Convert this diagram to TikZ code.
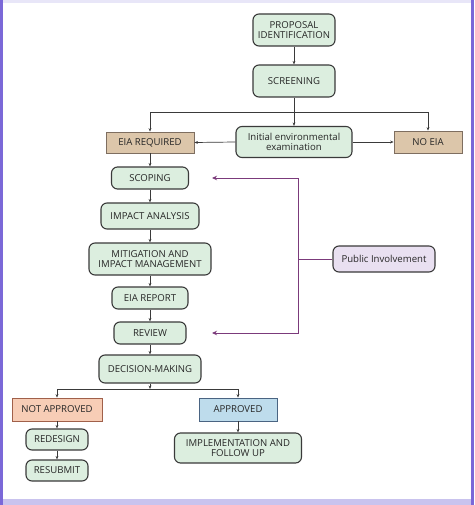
\documentclass[tikz,border=0pt]{standalone}
\usepackage{fontspec}
\setmainfont{Open Sans}
\usetikzlibrary{arrows.meta}
\definecolor{gfill}{HTML}{DCEEDF}
\definecolor{edge}{HTML}{3A3A3A}
\definecolor{txt}{HTML}{262626}
\definecolor{tanc}{HTML}{DCC6AA}
\definecolor{tanedge}{HTML}{7E6E60}
\definecolor{peach}{HTML}{F7CDB6}
\definecolor{peachedge}{HTML}{A0604A}
\definecolor{bluec}{HTML}{BEDCEC}
\definecolor{blueedge}{HTML}{4A6482}
\definecolor{lav}{HTML}{E9E0F1}
\definecolor{purp}{HTML}{7B3A7B}
\definecolor{topc}{HTML}{E8E6F8}
\definecolor{botc}{HTML}{C9C3EE}
\definecolor{sidec}{HTML}{7B68D8}
\begin{document}
\begin{tikzpicture}[x=1pt,y=-1pt,
  box/.style={draw=edge, line width=1.1pt, rounded corners=6pt, fill=gfill, align=center,
    inner sep=0pt, font=\fontsize{9.6}{10.3}\selectfont, text=txt},
  sqbox/.style={box, rounded corners=0pt, line width=0.8pt},
  arr/.style={-{Stealth[length=3.5pt,width=2.8pt]}, draw=edge, line width=0.7pt},
  pline/.style={draw=purp, line width=0.9pt},
  parr/.style={pline, -{Stealth[length=5pt,width=4.5pt]}}]
\useasboundingbox (0,0) rectangle (474,505);
\fill[white] (0,0) rectangle (474,505);
\fill[topc] (0,0) rectangle (474,3);
\fill[botc] (0,499) rectangle (474,505);
\fill[sidec] (0,0) rectangle (2.5,505);
\fill[sidec] (471,0) rectangle (474,505);

\node[box, minimum width=82pt, minimum height=32pt] (prop) at (294,30) {PROPOSAL\\IDENTIFICATION};
\node[box, minimum width=82pt, minimum height=32pt] (scr) at (294,81) {SCREENING};
\node[box, minimum width=116pt, minimum height=31pt] (iee) at (294,142) {Initial environmental\\examination};
\node[sqbox, fill=tanc, draw=tanedge, minimum width=88pt, minimum height=21pt] (req) at (150,142.5) {EIA REQUIRED};
\node[sqbox, fill=tanc, draw=tanedge, minimum width=68pt, minimum height=22pt] (noeia) at (428,142) {NO EIA};
\node[box, minimum width=77pt, minimum height=22pt] (scop) at (150,178) {SCOPING};
\node[box, minimum width=98pt, minimum height=26pt] (imp) at (150,216) {IMPACT ANALYSIS};
\node[box, minimum width=122pt, minimum height=32pt] (mit) at (150,259) {MITIGATION AND\\IMPACT MANAGEMENT};
\node[box, minimum width=76pt, minimum height=22pt] (rep) at (150,298) {EIA REPORT};
\node[box, minimum width=72pt, minimum height=22pt] (rev) at (150,333) {REVIEW};
\node[box, fill=lav, minimum width=102pt, minimum height=26pt] (pub) at (384,259) {Public Involvement};
\node[box, minimum width=102pt, minimum height=28pt] (dec) at (150,369) {DECISION-MAKING};
\node[sqbox, fill=peach, draw=peachedge, minimum width=90pt, minimum height=23pt] (nap) at (57,409.5) {NOT APPROVED};
\node[sqbox, fill=bluec, draw=blueedge, minimum width=78pt, minimum height=23pt] (app) at (238,409.5) {APPROVED};
\node[box, minimum width=62pt, minimum height=21pt] (red) at (57,439.5) {REDESIGN};
\node[box, minimum width=62pt, minimum height=21pt] (res) at (57,470.5) {RESUBMIT};
\node[box, minimum width=127pt, minimum height=30pt] (impl) at (238,448) {IMPLEMENTATION AND\\FOLLOW UP};

\coordinate (j1) at (294,112);
\coordinate (j2) at (150,389);
\coordinate (pv) at (298,259);
\coordinate (ts) at (212,178);
\coordinate (tr) at (212,333);

\draw[arr] (prop) -- (scr);
\draw[arr] (scr) -- (iee);
\draw[arr] (j1) -| (req.north);
\draw[arr] (j1) -| (noeia.north);
\draw[arr] (iee.west) -- (req.east);
\draw[arr] (iee.east) -- (noeia.west);
\draw[arr] (req) -- (scop);
\draw[arr] (scop) -- (imp);
\draw[arr] (imp) -- (mit);
\draw[arr] (mit) -- (rep);
\draw[arr] (rep) -- (rev);
\draw[arr] (rev) -- (dec);
\draw[arr] (dec) -- (j2);
\draw[arr] (j2) -| (nap.north);
\draw[arr] (j2) -| (app.north);
\draw[arr] (nap) -- (red);
\draw[arr] (red) -- (res);
\draw[arr] (app) -- (impl);

\draw[pline] (pub.west) -- (pv);
\draw[parr] (pv) |- (ts);
\draw[parr] (pv) |- (tr);
\end{tikzpicture}
\end{document}
